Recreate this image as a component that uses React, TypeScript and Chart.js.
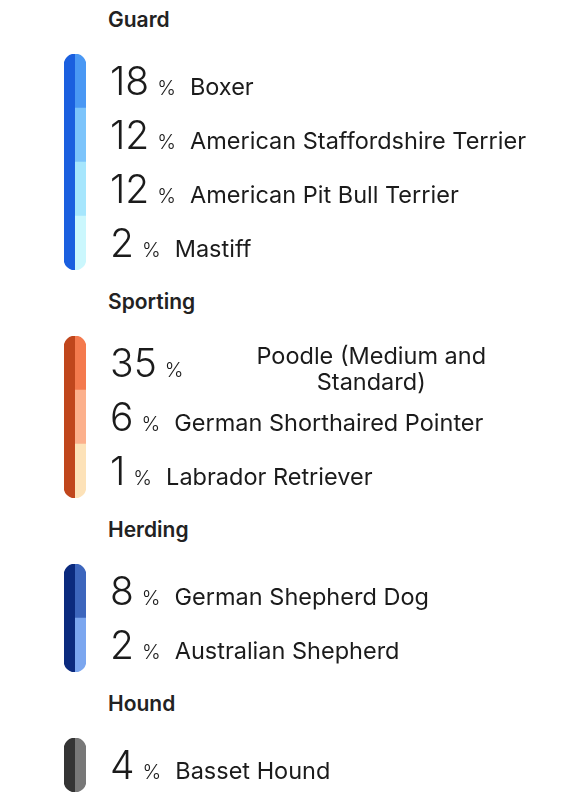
import { useEffect, useRef } from "react";
import { Chart, registerables, type Plugin } from "chart.js";

Chart.register(...registerables);

// groups and their breeds, top to bottom
const guardBreeds = ["Boxer", "American Staffordshire Terrier", "American Pit Bull Terrier", "Mastiff"];
const guardPercents = [18, 12, 12, 2];
const guardColors = ["#4a98f4", "#7cc4fb", "#a6e6fd", "#cbf7fd"];

const sportingBreeds = ["Poodle (Medium and Standard)", "German Shorthaired Pointer", "Labrador Retriever"];
const sportingPercents = [35, 6, 1];
const sportingColors = ["#f47a4e", "#fcb08c", "#fde2b8"];

const herdingBreeds = ["German Shepherd Dog", "Australian Shepherd"];
const herdingPercents = [8, 2];
const herdingColors = ["#3d66bd", "#7ba6ef"];

const houndBreeds = ["Basset Hound"];
const houndPercents = [4];
const houndColors = ["#787878"];

const groupTitles = ["Guard", "Sporting", "Herding", "Hound"];
const groupBaseColors = ["#1a5fdf", "#c0461c", "#0b2a7e", "#343434"];

const ROW = 54;
const BAR_W = 22;
const WRAP_AT = 532; // names running past this wrap onto a second line
const TEXT_RIGHT = 545;
const FONT = "Inter, 'Open Sans', sans-serif";

interface GroupProps {
  title: string;
  breeds: string[];
  percents: number[];
  colors: string[];
  baseColor: string;
  first?: boolean;
}

// draws the percentage, "%" and breed name next to each segment
const labelPlugin: Plugin<"bar"> = {
  id: "breedLabels",
  afterDatasetsDraw(chart) {
    const { ctx } = chart;
    const y = chart.scales.y;
    const n = chart.data.datasets.length;
    ctx.save();
    ctx.fillStyle = "#1b1b1b";
    ctx.textBaseline = "alphabetic";
    chart.data.datasets.forEach((ds, di) => {
      const i = n - 1 - di; // datasets are stacked bottom-up
      const center = y.getPixelForValue(n - i - 0.5);
      const base = center + 13.5;
      const pct = (ds as any).percent as number;
      let x = 110;
      ctx.textAlign = "left";
      ctx.font = `300 39px ${FONT}`;
      ctx.fillText(String(pct), x, base);
      x += ctx.measureText(String(pct)).width + 8;
      ctx.font = `300 20px ${FONT}`;
      ctx.fillText("%", x, base);
      x += ctx.measureText("%").width + 14;
      ctx.font = `400 23.5px ${FONT}`;
      const name = ds.label as string;
      if (ctx.measureText(name).width <= WRAP_AT - x) {
        ctx.fillText(name, x, base);
      } else {
        const lines: string[] = [];
        let cur = "";
        name.split(" ").forEach((w) => {
          const t = cur ? cur + " " + w : w;
          if (ctx.measureText(t).width > WRAP_AT - x && cur) {
            lines.push(cur);
            cur = w;
          } else cur = t;
        });
        lines.push(cur);
        ctx.textAlign = "center";
        const cx = (x + TEXT_RIGHT) / 2;
        lines.forEach((l, k) => {
          ctx.fillText(l, cx, base + (k - (lines.length - 1) / 2) * 26);
        });
      }
    });
    ctx.restore();
  },
};

function BreedGroup({ title, breeds, percents, colors, baseColor, first }: GroupProps) {
  const canvasRef = useRef<HTMLCanvasElement>(null);

  useEffect(() => {
    if (!canvasRef.current) return;
    const n = breeds.length;
    const order = breeds.map((_, i) => n - 1 - i);
    const chart = new Chart(canvasRef.current, {
      type: "bar",
      data: {
        labels: [title],
        datasets: order.map((i) => ({
          label: breeds[i],
          percent: percents[i],
          data: [1],
          barThickness: BAR_W,
          borderSkipped: false,
          borderRadius: {
            topLeft: i === 0 ? BAR_W / 2 : 0,
            topRight: i === 0 ? BAR_W / 2 : 0,
            bottomLeft: i === n - 1 ? BAR_W / 2 : 0,
            bottomRight: i === n - 1 ? BAR_W / 2 : 0,
          },
          // left half in the group colour, right half in the breed colour
          backgroundColor: (c: any) => {
            const ch = c.chart as Chart;
            if (!ch.chartArea) return colors[i];
            const cx = ch.scales.x.getPixelForValue(0);
            const g = ch.ctx.createLinearGradient(cx - BAR_W / 2, 0, cx + BAR_W / 2, 0);
            g.addColorStop(0, baseColor);
            g.addColorStop(0.5, baseColor);
            g.addColorStop(0.5, colors[i]);
            g.addColorStop(1, colors[i]);
            return g;
          },
        })) as any,
      },
      options: {
        animation: false,
        responsive: true,
        maintainAspectRatio: false,
        layout: { padding: { left: 64, right: 577 - 64 - BAR_W, top: 0, bottom: 0 } },
        plugins: { legend: { display: false }, tooltip: { enabled: false } },
        scales: {
          x: { stacked: true, display: false },
          y: { stacked: true, display: false, min: 0, max: n },
        },
      },
      plugins: [labelPlugin],
    });
    return () => chart.destroy();
  }, [title, breeds, percents, colors, baseColor]);

  return (
    <div style={{ marginTop: first ? 0 : 12 }}>
      <div
        style={{
          height: 54,
          lineHeight: "40px",
          paddingLeft: 108,
          fontFamily: FONT,
          fontWeight: 600,
          fontSize: 21,
          color: "#222",
          boxSizing: "border-box",
        }}
      >
        {title}
      </div>
      <div style={{ position: "relative", width: 577, height: breeds.length * ROW }}>
        <canvas ref={canvasRef} />
      </div>
    </div>
  );
}

export default function App() {
  return (
    <div style={{ position: "absolute", left: 0, top: 0, width: 577, height: 800, background: "#fff" }}>
      <BreedGroup
        first
        title={groupTitles[0]}
        breeds={guardBreeds}
        percents={guardPercents}
        colors={guardColors}
        baseColor={groupBaseColors[0]}
      />
      <BreedGroup
        title={groupTitles[1]}
        breeds={sportingBreeds}
        percents={sportingPercents}
        colors={sportingColors}
        baseColor={groupBaseColors[1]}
      />
      <BreedGroup
        title={groupTitles[2]}
        breeds={herdingBreeds}
        percents={herdingPercents}
        colors={herdingColors}
        baseColor={groupBaseColors[2]}
      />
      <BreedGroup
        title={groupTitles[3]}
        breeds={houndBreeds}
        percents={houndPercents}
        colors={houndColors}
        baseColor={groupBaseColors[3]}
      />
    </div>
  );
}
